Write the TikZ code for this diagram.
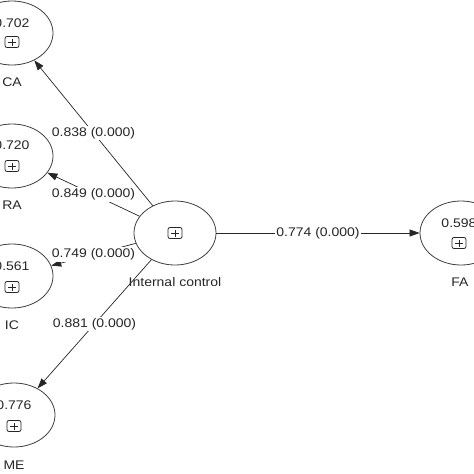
\documentclass[tikz,border=0pt]{standalone}
\usepackage{fontspec}
\setmainfont[FakeStretch=1.12]{Liberation Sans}
\usetikzlibrary{shapes.geometric,arrows.meta}
\begin{document}
\begin{tikzpicture}[x=1pt,y=-1pt,
  lv/.style={ellipse, draw=black!75, line width=0.8pt, minimum width=82pt, minimum height=64pt, inner sep=0pt},
  txt/.style={font=\fontsize{12.5}{14}\selectfont, text=black!85, inner sep=0pt},
  lab/.style={font=\fontsize{12.5}{14}\selectfont, text=black!85, fill=white, inner sep=1.5pt},
  pl/.style={draw=black!85, rounded corners=2pt, minimum width=14pt, minimum height=11pt, inner sep=0pt, line width=0.8pt,
    path picture={\draw[line width=0.8pt] (path picture bounding box.center) ++(-4pt,0) -- ++(8pt,0);
                  \draw[line width=0.8pt] (path picture bounding box.center) ++(0,-3.5pt) -- ++(0,7pt);}},
  arr/.style={draw=black!85, line width=0.7pt, -{Triangle[length=10pt,width=7pt]}}
]
\useasboundingbox (0,0) rectangle (474,474);

% left latent variables
\node[lv] (ca) at (12,33) {};
\node[txt] (cav) at (12,23) {0.702};
\node[pl] (cap) at (12,42) {};
\node[txt] (cal) at (12,82) {CA};

\node[lv] (ra) at (12,156) {};
\node[txt] (rav) at (12,145) {0.720};
\node[pl] (rap) at (12,166) {};
\node[txt] (ral) at (12,205) {RA};

\node[lv] (icn) at (12,276) {};
\node[txt] (icv) at (12,266) {0.561};
\node[pl] (icp) at (12,287) {};
\node[txt] (icl) at (12,325) {IC};

\node[lv] (me) at (14,415) {};
\node[txt] (mev) at (14,405) {0.776};
\node[pl] (mep) at (14,426) {};
\node[txt] (mel) at (14,465) {ME};

% internal control
\node[lv] (ic) at (175,233) {};
\node[pl] (icpp) at (175,233) {};
\node[txt] (icc) at (175,282) {Internal control};

% FA
\node[lv] (fa) at (461,233) {};
\node[txt] (fav) at (459,223) {0.598};
\node[pl] (fap) at (459,243) {};
\node[txt] (fal) at (460,282) {FA};

% paths
\draw[arr] (ic) -- node[lab] {0.838 (0.000)} (ca);
\draw[arr] (ic) -- node[lab] {0.849 (0.000)} (ra);
\draw[arr] (ic) -- node[lab] {0.749 (0.000)} (icn);
\draw[arr] (ic) -- node[lab] {0.881 (0.000)} (me);
\draw[arr] (ic) -- node[lab] {0.774 (0.000)} (fa);
\end{tikzpicture}
\end{document}
